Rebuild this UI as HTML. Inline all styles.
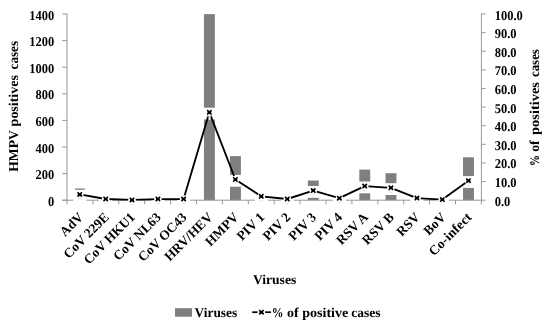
<!DOCTYPE html><html><head><meta charset="utf-8"><title>Viruses chart</title>
<style>html,body{margin:0;padding:0;background:#fff}svg{display:block}text{font-family:"Liberation Serif",serif;font-weight:bold;fill:#000;text-rendering:geometricPrecision}</style></head><body>
<svg width="550" height="327" viewBox="0 0 550 327">
<rect width="550" height="327" fill="#fff"/>
<rect x="75.00" y="188.5" width="9.9" height="11.70" fill="#7f7f7f"/>
<rect x="203.97" y="14.1" width="10.9" height="186.10" fill="#7f7f7f"/>
<rect x="230.00" y="156.1" width="10.9" height="44.10" fill="#7f7f7f"/>
<rect x="307.83" y="180.5" width="10.9" height="19.70" fill="#7f7f7f"/>
<rect x="359.30" y="169.6" width="10.9" height="30.60" fill="#7f7f7f"/>
<rect x="385.53" y="173.2" width="10.9" height="27.00" fill="#7f7f7f"/>
<rect x="463.03" y="157.3" width="10.9" height="42.90" fill="#7f7f7f"/>
<g stroke="#979797" stroke-width="1" fill="none">
<path d="M67.0 13.5V200.2M481.4 13.5V200.2M62.3 200.2H481.4"/>
<path d="M62.3 200.20H67.0"/>
<path d="M62.3 173.60H67.0"/>
<path d="M62.3 147.00H67.0"/>
<path d="M62.3 120.40H67.0"/>
<path d="M62.3 93.80H67.0"/>
<path d="M62.3 67.20H67.0"/>
<path d="M62.3 40.60H67.0"/>
<path d="M62.3 14.00H67.0"/>
<path d="M481.4 200.20H485.59999999999997"/>
<path d="M481.4 181.58H485.59999999999997"/>
<path d="M481.4 162.96H485.59999999999997"/>
<path d="M481.4 144.34H485.59999999999997"/>
<path d="M481.4 125.72H485.59999999999997"/>
<path d="M481.4 107.10H485.59999999999997"/>
<path d="M481.4 88.48H485.59999999999997"/>
<path d="M481.4 69.86H485.59999999999997"/>
<path d="M481.4 51.24H485.59999999999997"/>
<path d="M481.4 32.62H485.59999999999997"/>
<path d="M481.4 14.00H485.59999999999997"/>
<path d="M67.00 200.2V204.39999999999998"/>
<path d="M92.90 200.2V204.39999999999998"/>
<path d="M118.80 200.2V204.39999999999998"/>
<path d="M144.70 200.2V204.39999999999998"/>
<path d="M170.60 200.2V204.39999999999998"/>
<path d="M196.50 200.2V204.39999999999998"/>
<path d="M222.40 200.2V204.39999999999998"/>
<path d="M248.30 200.2V204.39999999999998"/>
<path d="M274.20 200.2V204.39999999999998"/>
<path d="M300.10 200.2V204.39999999999998"/>
<path d="M326.00 200.2V204.39999999999998"/>
<path d="M351.90 200.2V204.39999999999998"/>
<path d="M377.80 200.2V204.39999999999998"/>
<path d="M403.70 200.2V204.39999999999998"/>
<path d="M429.60 200.2V204.39999999999998"/>
<path d="M455.50 200.2V204.39999999999998"/>
<path d="M481.40 200.2V204.39999999999998"/>
</g>
<rect x="73.23" y="189.80" width="13" height="11.8" fill="#fff"/>
<rect x="99.20" y="194.40" width="13" height="11.8" fill="#fff"/>
<rect x="125.50" y="195.35" width="13" height="11.8" fill="#fff"/>
<rect x="151.40" y="194.50" width="13" height="11.8" fill="#fff"/>
<rect x="177.10" y="194.50" width="13" height="11.8" fill="#fff"/>
<rect x="202.87" y="107.70" width="13" height="11.8" fill="#fff"/>
<rect x="228.90" y="174.90" width="13" height="11.8" fill="#fff"/>
<rect x="254.73" y="191.70" width="13" height="11.8" fill="#fff"/>
<rect x="280.77" y="194.40" width="13" height="11.8" fill="#fff"/>
<rect x="306.73" y="186.00" width="13" height="11.8" fill="#fff"/>
<rect x="332.83" y="193.60" width="13" height="11.8" fill="#fff"/>
<rect x="358.20" y="181.50" width="13" height="11.8" fill="#fff"/>
<rect x="384.43" y="183.20" width="13" height="11.8" fill="#fff"/>
<rect x="410.47" y="193.50" width="13" height="11.8" fill="#fff"/>
<rect x="435.83" y="195.00" width="13" height="11.8" fill="#fff"/>
<rect x="461.93" y="176.10" width="13" height="11.8" fill="#fff"/>
<polyline points="79.73,194.4 105.70,199.0 132.00,199.95 157.90,199.1 183.60,199.1 209.37,112.3 235.40,179.5 261.23,196.3 287.27,199.0 313.23,190.6 339.33,198.2 364.70,186.1 390.93,187.8 416.97,198.1 442.33,199.6 468.43,180.7" fill="none" stroke="#000" stroke-width="1.85" stroke-linejoin="round"/>
<path d="M77.93 198.80H81.53" stroke="#e2e2e2" stroke-width="0.9"/>
<circle cx="79.73" cy="194.4" r="3.8" fill="#fff"/><path d="M77.53 192.20L81.93 196.60M77.53 196.60L81.93 192.20M77.83 194.4H81.63" stroke="#000" stroke-width="1.6" fill="none"/>
<path d="M103.90 203.40H107.50" stroke="#e2e2e2" stroke-width="0.9"/>
<circle cx="105.70" cy="199.0" r="3.8" fill="#fff"/><path d="M103.50 196.80L107.90 201.20M103.50 201.20L107.90 196.80M103.80 199.0H107.60" stroke="#000" stroke-width="1.6" fill="none"/>
<path d="M130.20 204.35H133.80" stroke="#e2e2e2" stroke-width="0.9"/>
<circle cx="132.00" cy="199.95" r="3.8" fill="#fff"/><path d="M129.80 197.75L134.20 202.15M129.80 202.15L134.20 197.75M130.10 199.95H133.90" stroke="#000" stroke-width="1.6" fill="none"/>
<path d="M156.10 203.50H159.70" stroke="#e2e2e2" stroke-width="0.9"/>
<circle cx="157.90" cy="199.1" r="3.8" fill="#fff"/><path d="M155.70 196.90L160.10 201.30M155.70 201.30L160.10 196.90M156.00 199.1H159.80" stroke="#000" stroke-width="1.6" fill="none"/>
<path d="M181.80 203.50H185.40" stroke="#e2e2e2" stroke-width="0.9"/>
<circle cx="183.60" cy="199.1" r="3.8" fill="#fff"/><path d="M181.40 196.90L185.80 201.30M181.40 201.30L185.80 196.90M181.70 199.1H185.50" stroke="#000" stroke-width="1.6" fill="none"/>
<path d="M207.57 116.70H211.17" stroke="#e2e2e2" stroke-width="0.9"/>
<circle cx="209.37" cy="112.3" r="3.8" fill="#fff"/><path d="M207.17 110.10L211.57 114.50M207.17 114.50L211.57 110.10M207.47 112.3H211.27" stroke="#000" stroke-width="1.6" fill="none"/>
<path d="M233.60 183.90H237.20" stroke="#e2e2e2" stroke-width="0.9"/>
<circle cx="235.40" cy="179.5" r="3.8" fill="#fff"/><path d="M233.20 177.30L237.60 181.70M233.20 181.70L237.60 177.30M233.50 179.5H237.30" stroke="#000" stroke-width="1.6" fill="none"/>
<path d="M259.43 200.70H263.03" stroke="#e2e2e2" stroke-width="0.9"/>
<circle cx="261.23" cy="196.3" r="3.8" fill="#fff"/><path d="M259.03 194.10L263.43 198.50M259.03 198.50L263.43 194.10M259.33 196.3H263.13" stroke="#000" stroke-width="1.6" fill="none"/>
<path d="M285.47 203.40H289.07" stroke="#e2e2e2" stroke-width="0.9"/>
<circle cx="287.27" cy="199.0" r="3.8" fill="#fff"/><path d="M285.07 196.80L289.47 201.20M285.07 201.20L289.47 196.80M285.37 199.0H289.17" stroke="#000" stroke-width="1.6" fill="none"/>
<path d="M311.43 195.00H315.03" stroke="#e2e2e2" stroke-width="0.9"/>
<circle cx="313.23" cy="190.6" r="3.8" fill="#fff"/><path d="M311.03 188.40L315.43 192.80M311.03 192.80L315.43 188.40M311.33 190.6H315.13" stroke="#000" stroke-width="1.6" fill="none"/>
<path d="M337.53 202.60H341.13" stroke="#e2e2e2" stroke-width="0.9"/>
<circle cx="339.33" cy="198.2" r="3.8" fill="#fff"/><path d="M337.13 196.00L341.53 200.40M337.13 200.40L341.53 196.00M337.43 198.2H341.23" stroke="#000" stroke-width="1.6" fill="none"/>
<path d="M362.90 190.50H366.50" stroke="#e2e2e2" stroke-width="0.9"/>
<circle cx="364.70" cy="186.1" r="3.8" fill="#fff"/><path d="M362.50 183.90L366.90 188.30M362.50 188.30L366.90 183.90M362.80 186.1H366.60" stroke="#000" stroke-width="1.6" fill="none"/>
<path d="M389.13 192.20H392.73" stroke="#e2e2e2" stroke-width="0.9"/>
<circle cx="390.93" cy="187.8" r="3.8" fill="#fff"/><path d="M388.73 185.60L393.13 190.00M388.73 190.00L393.13 185.60M389.03 187.8H392.83" stroke="#000" stroke-width="1.6" fill="none"/>
<path d="M415.17 202.50H418.77" stroke="#e2e2e2" stroke-width="0.9"/>
<circle cx="416.97" cy="198.1" r="3.8" fill="#fff"/><path d="M414.77 195.90L419.17 200.30M414.77 200.30L419.17 195.90M415.07 198.1H418.87" stroke="#000" stroke-width="1.6" fill="none"/>
<path d="M440.53 204.00H444.13" stroke="#e2e2e2" stroke-width="0.9"/>
<circle cx="442.33" cy="199.6" r="3.8" fill="#fff"/><path d="M440.13 197.40L444.53 201.80M440.13 201.80L444.53 197.40M440.43 199.6H444.23" stroke="#000" stroke-width="1.6" fill="none"/>
<path d="M466.63 185.10H470.23" stroke="#e2e2e2" stroke-width="0.9"/>
<circle cx="468.43" cy="180.7" r="3.8" fill="#fff"/><path d="M466.23 178.50L470.63 182.90M466.23 182.90L470.63 178.50M466.53 180.7H470.33" stroke="#000" stroke-width="1.6" fill="none"/>
<text x="47.98" y="205.70" font-size="13.5" textLength="6.22" lengthAdjust="spacingAndGlyphs">0</text>
<text x="35.54" y="179.10" font-size="13.5" textLength="18.66" lengthAdjust="spacingAndGlyphs">200</text>
<text x="35.54" y="152.50" font-size="13.5" textLength="18.66" lengthAdjust="spacingAndGlyphs">400</text>
<text x="35.54" y="125.90" font-size="13.5" textLength="18.66" lengthAdjust="spacingAndGlyphs">600</text>
<text x="35.54" y="99.30" font-size="13.5" textLength="18.66" lengthAdjust="spacingAndGlyphs">800</text>
<text x="29.32" y="72.70" font-size="13.5" textLength="24.88" lengthAdjust="spacingAndGlyphs">1000</text>
<text x="29.32" y="46.10" font-size="13.5" textLength="24.88" lengthAdjust="spacingAndGlyphs">1200</text>
<text x="29.32" y="19.50" font-size="13.5" textLength="24.88" lengthAdjust="spacingAndGlyphs">1400</text>
<text x="494.7" y="205.70" font-size="13.5" textLength="15.64" lengthAdjust="spacingAndGlyphs">0.0</text>
<text x="494.7" y="187.08" font-size="13.5" textLength="21.86" lengthAdjust="spacingAndGlyphs">10.0</text>
<text x="494.7" y="168.46" font-size="13.5" textLength="21.86" lengthAdjust="spacingAndGlyphs">20.0</text>
<text x="494.7" y="149.84" font-size="13.5" textLength="21.86" lengthAdjust="spacingAndGlyphs">30.0</text>
<text x="494.7" y="131.22" font-size="13.5" textLength="21.86" lengthAdjust="spacingAndGlyphs">40.0</text>
<text x="494.7" y="112.60" font-size="13.5" textLength="21.86" lengthAdjust="spacingAndGlyphs">50.0</text>
<text x="494.7" y="93.98" font-size="13.5" textLength="21.86" lengthAdjust="spacingAndGlyphs">60.0</text>
<text x="494.7" y="75.36" font-size="13.5" textLength="21.86" lengthAdjust="spacingAndGlyphs">70.0</text>
<text x="494.7" y="56.74" font-size="13.5" textLength="21.86" lengthAdjust="spacingAndGlyphs">80.0</text>
<text x="494.7" y="38.12" font-size="13.5" textLength="21.86" lengthAdjust="spacingAndGlyphs">90.0</text>
<text x="494.7" y="19.50" font-size="13.5" textLength="28.08" lengthAdjust="spacingAndGlyphs">100.0</text>
<text transform="translate(18.2 171.80) rotate(-90)" font-size="13.5" textLength="41.60" lengthAdjust="spacingAndGlyphs">HMPV</text>
<text transform="translate(18.2 126.40) rotate(-90)" font-size="13.5" textLength="51.30" lengthAdjust="spacingAndGlyphs">positives</text>
<text transform="translate(18.2 69.40) rotate(-90)" font-size="13.5" textLength="28.40" lengthAdjust="spacingAndGlyphs">cases</text>
<text transform="translate(539.2 166.00) rotate(-90)" font-size="13.5" textLength="10.90" lengthAdjust="spacingAndGlyphs">%</text>
<text transform="translate(539.2 151.80) rotate(-90)" font-size="13.5" textLength="11.50" lengthAdjust="spacingAndGlyphs">of</text>
<text transform="translate(539.2 134.90) rotate(-90)" font-size="13.5" textLength="52.80" lengthAdjust="spacingAndGlyphs">positives</text>
<text transform="translate(539.2 77.10) rotate(-90)" font-size="13.5" textLength="28.00" lengthAdjust="spacingAndGlyphs">cases</text>
<text x="253.0" y="283.7" font-size="13.5" textLength="43.2" lengthAdjust="spacingAndGlyphs">Viruses</text>
<text transform="translate(84.00 218) rotate(-45)" font-size="13.4" text-anchor="end">AdV</text>
<text transform="translate(109.90 218) rotate(-45)" font-size="13.4" text-anchor="end">CoV 229E</text>
<text transform="translate(135.80 218) rotate(-45)" font-size="13.4" text-anchor="end">CoV HKU1</text>
<text transform="translate(161.70 218) rotate(-45)" font-size="13.4" text-anchor="end">CoV NL63</text>
<text transform="translate(187.60 218) rotate(-45)" font-size="13.4" text-anchor="end">CoV OC43</text>
<text transform="translate(213.50 218) rotate(-45)" font-size="13.4" text-anchor="end">HRV/HEV</text>
<text transform="translate(239.40 218) rotate(-45)" font-size="13.4" text-anchor="end">HMPV</text>
<text transform="translate(265.30 218) rotate(-45)" font-size="13.4" text-anchor="end">PIV 1</text>
<text transform="translate(291.20 218) rotate(-45)" font-size="13.4" text-anchor="end">PIV 2</text>
<text transform="translate(317.10 218) rotate(-45)" font-size="13.4" text-anchor="end">PIV 3</text>
<text transform="translate(343.00 218) rotate(-45)" font-size="13.4" text-anchor="end">PIV 4</text>
<text transform="translate(368.90 218) rotate(-45)" font-size="13.4" text-anchor="end">RSV A</text>
<text transform="translate(394.80 218) rotate(-45)" font-size="13.4" text-anchor="end">RSV B</text>
<text transform="translate(420.70 218) rotate(-45)" font-size="13.4" text-anchor="end">RSV</text>
<text transform="translate(446.60 218) rotate(-45)" font-size="13.4" text-anchor="end">BoV</text>
<text transform="translate(472.50 218) rotate(-45)" font-size="13.4" text-anchor="end" letter-spacing="0.18">Co-infect</text>
<rect x="175" y="308.2" width="17" height="8.5" fill="#7f7f7f"/>
<text x="194.6" y="316.9" font-size="13.5" textLength="42.6" lengthAdjust="spacingAndGlyphs">Viruses</text>
<path d="M252.2 312.2H271" stroke="#000" stroke-width="1.7"/>
<circle cx="261.40" cy="312.2" r="3.8" fill="#fff"/><path d="M259.20 310.00L263.60 314.40M259.20 314.40L263.60 310.00M259.50 312.2H263.30" stroke="#000" stroke-width="1.6" fill="none"/>
<text x="271.70" y="316.8" font-size="13.5" textLength="11.70" lengthAdjust="spacingAndGlyphs">%</text>
<text x="287.00" y="316.8" font-size="13.5" textLength="11.70" lengthAdjust="spacingAndGlyphs">of</text>
<text x="302.20" y="316.8" font-size="13.5" textLength="46.10" lengthAdjust="spacingAndGlyphs">positive</text>
<text x="351.30" y="316.8" font-size="13.5" textLength="29.20" lengthAdjust="spacingAndGlyphs">cases</text>
</svg></body></html>
